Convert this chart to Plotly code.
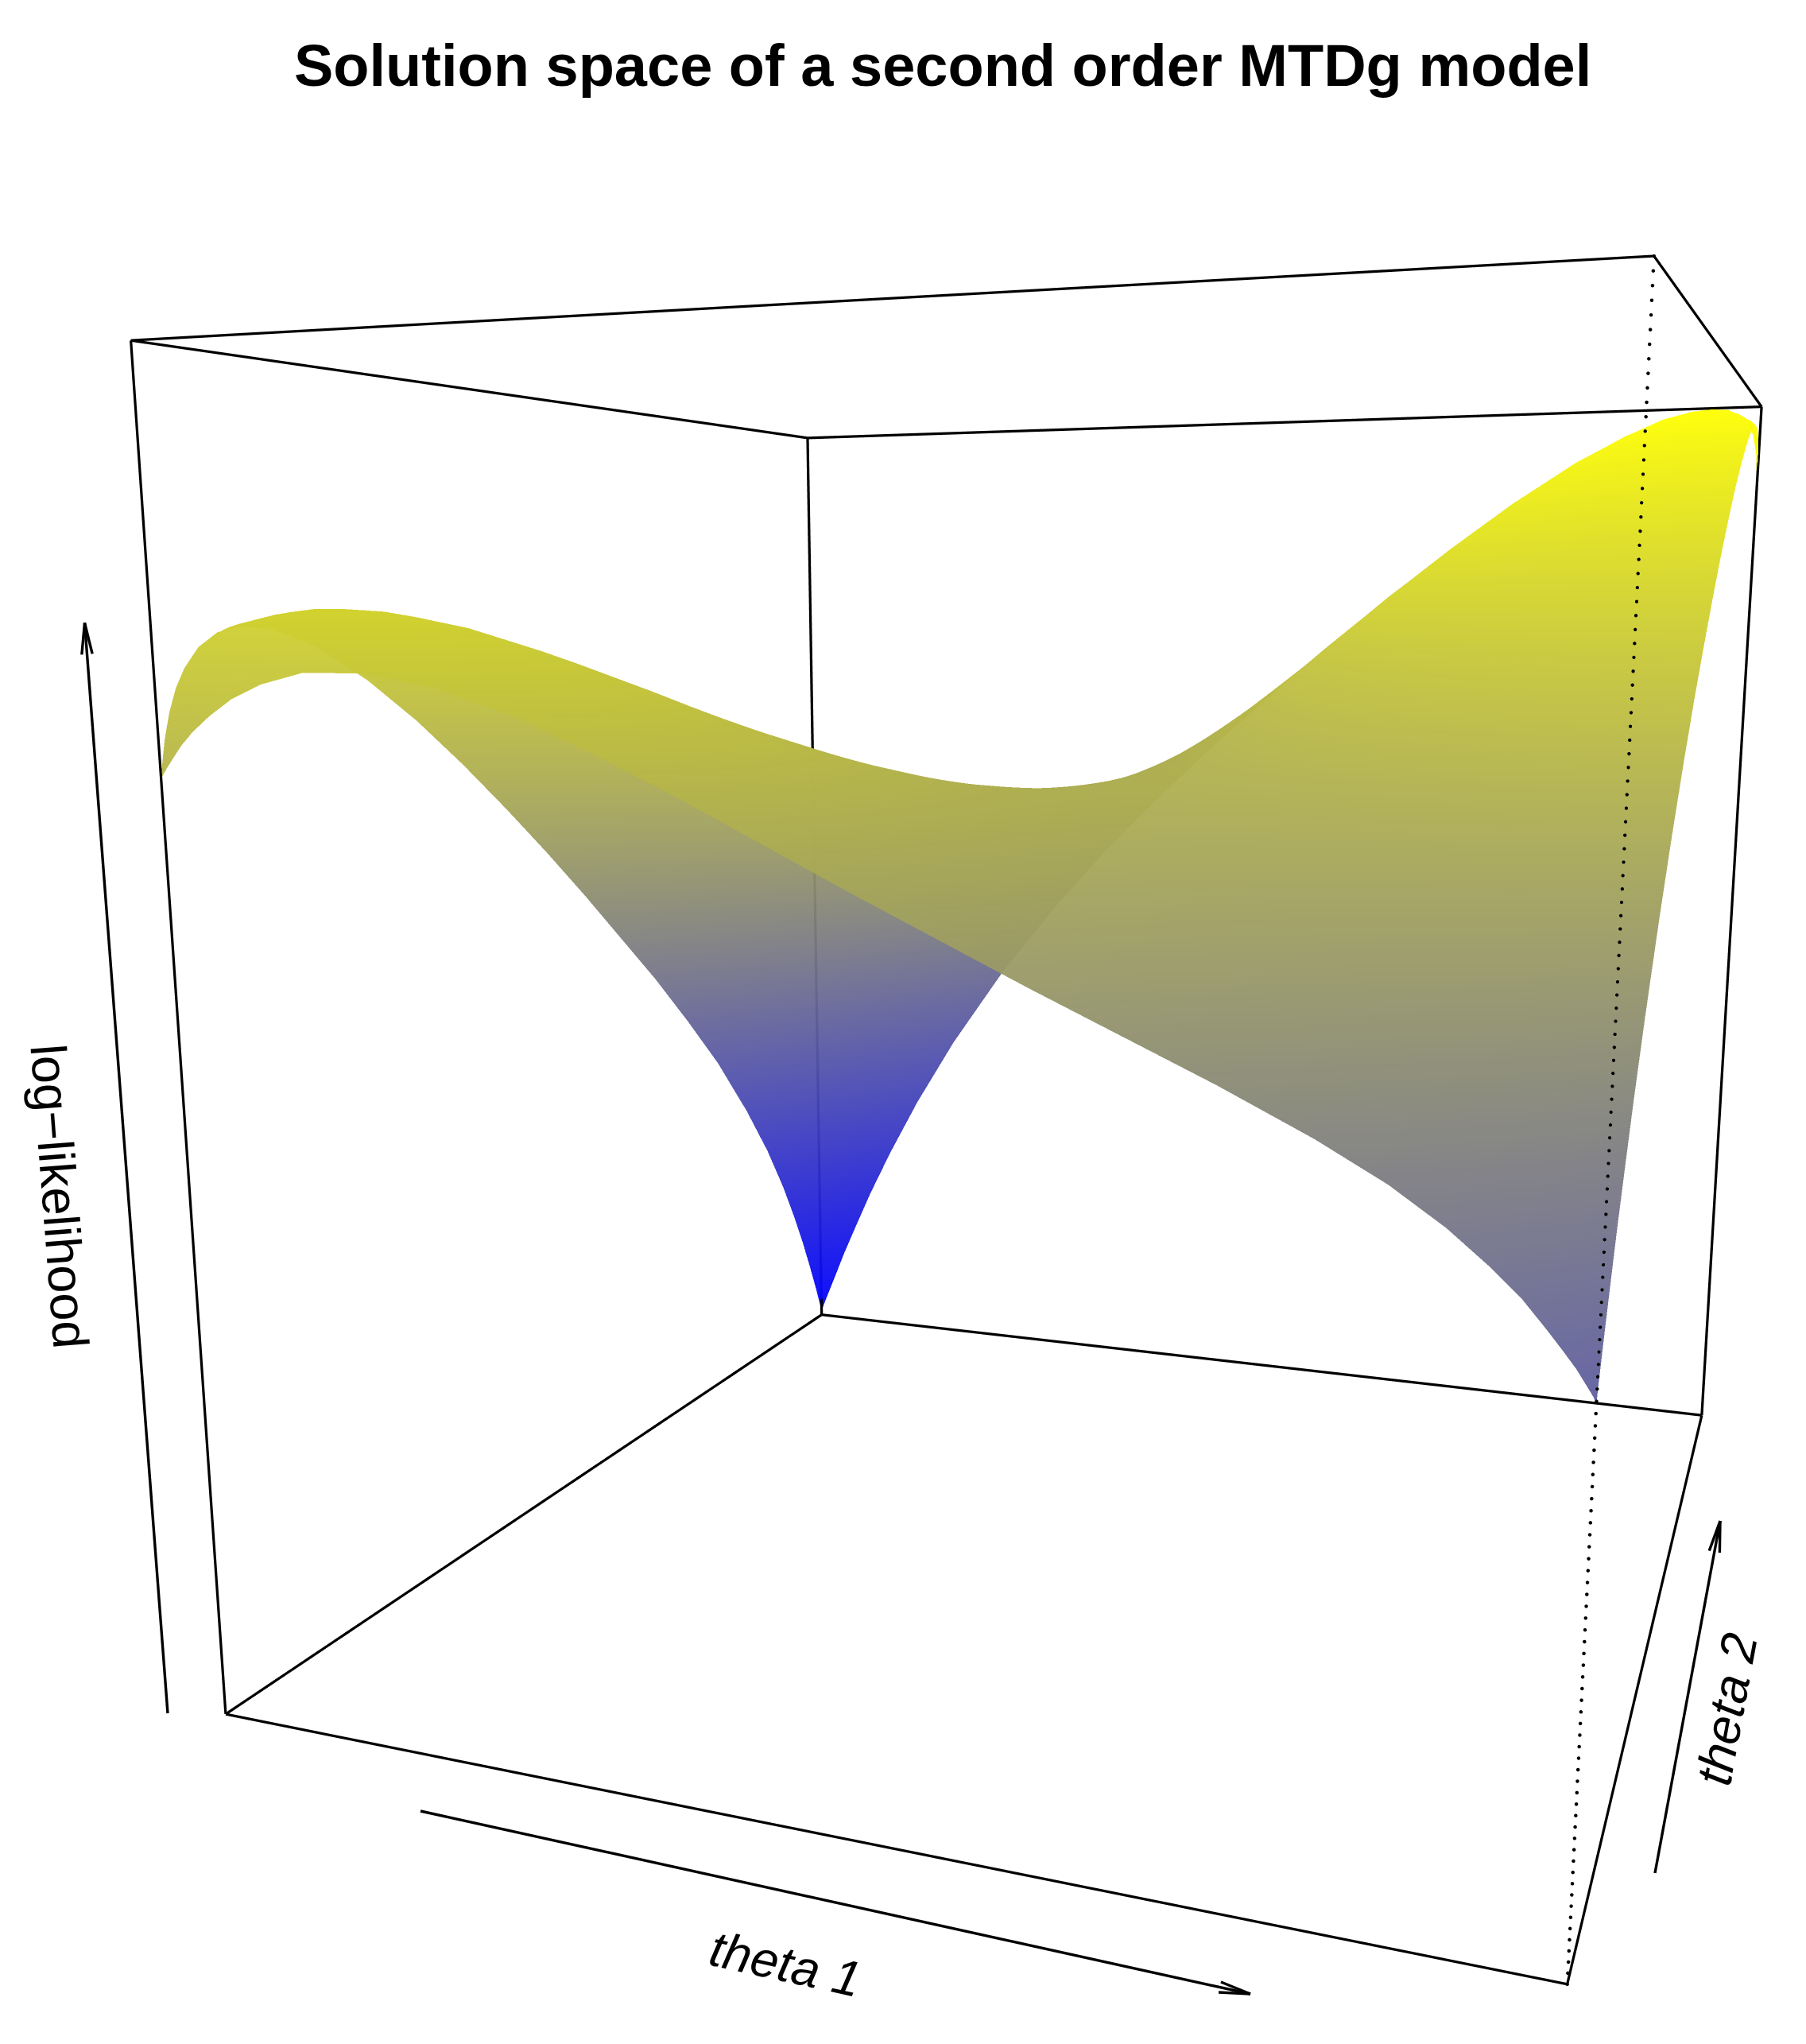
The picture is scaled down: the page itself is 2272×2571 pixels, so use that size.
import numpy as np
import plotly.graph_objects as go

W, H = 2272, 2571

theta_1 = [0, .002, .006, .012, .02, .03, .045, .065, .09, .125, .17, .23, .29, .35, .41, .47,
           .53, .59, .65, .71, .77, .83, .875, .91, .935, .955, .97, .98, .988, .994, .998, 1]
theta_2 = list(theta_1)

# log-likelihood, scaled to 0-1000 of the box height (rows: theta 2, columns: theta 1)
loglik_rows = [
 [705,708,713,720,729,738,749,761,771,779,779,770,752,728,702,674,646,619,592,566,540,512,488,465,445,427,410,398,388,379,373,369],
 [715,718,722,729,736,745,755,766,775,781,782,772,753,729,703,675,647,620,593,568,542,514,490,467,447,429,413,401,390,382,375,372],
 [732,734,737,743,749,756,765,774,782,787,786,774,756,732,705,677,649,622,596,570,545,517,493,471,452,434,418,406,396,387,381,378],
 [750,751,754,758,764,769,776,784,790,793,791,778,759,734,707,679,652,625,599,574,549,522,499,477,458,440,425,414,403,395,389,386],
 [767,768,770,774,778,782,788,794,798,800,796,783,762,738,711,683,655,629,603,579,555,529,506,485,467,450,435,423,414,406,400,397],
 [781,782,784,787,790,794,799,803,806,807,802,787,766,741,714,686,659,633,608,585,562,537,515,494,477,461,446,435,426,418,413,410],
 [795,796,797,800,802,805,809,812,814,813,807,791,770,745,718,690,664,639,615,593,571,548,527,508,492,476,463,453,444,437,432,429],
 [805,805,807,809,811,813,816,819,820,818,811,794,772,748,721,695,669,646,624,603,583,562,543,526,511,497,485,475,467,461,456,454],
 [809,810,811,813,815,817,819,821,821,819,811,795,773,749,724,699,675,653,633,614,597,578,562,547,534,521,510,502,494,489,484,482],
 [806,807,808,809,811,813,815,817,817,815,807,791,770,748,724,701,680,660,643,628,614,600,587,574,563,553,543,536,530,525,522,520],
 [793,794,795,796,798,800,802,804,804,802,795,781,762,742,721,701,683,668,654,644,634,625,616,607,598,590,583,577,572,568,565,564],
 [765,766,767,769,771,773,775,778,779,778,773,761,746,729,713,697,684,674,666,661,658,654,651,646,641,636,631,627,623,620,618,617],
 [730,731,732,734,736,739,742,745,747,748,745,737,726,714,702,691,683,678,675,676,678,681,682,682,680,677,674,672,669,667,666,665],
 [690,691,692,695,697,700,704,708,712,715,715,711,704,696,689,684,681,681,684,690,698,706,712,715,716,715,714,713,712,711,710,709],
 [647,648,650,652,655,659,664,669,675,680,684,684,682,679,677,676,678,684,692,703,716,730,740,746,749,751,751,751,751,750,750,750],
 [602,603,605,608,611,616,622,629,637,645,652,657,660,662,665,670,677,687,700,717,735,754,767,776,781,784,786,787,787,787,787,787],
 [555,556,558,562,566,572,579,588,598,609,620,631,639,647,655,664,677,692,710,731,754,777,793,804,811,816,819,820,821,822,822,822],
 [506,508,511,515,520,527,536,547,559,574,589,606,620,633,646,661,678,698,721,746,773,800,819,832,841,846,850,852,853,854,855,855],
 [457,458,462,467,473,481,492,505,520,539,559,582,602,621,640,660,682,706,734,763,793,823,844,859,869,875,879,882,883,884,885,885],
 [404,406,410,416,424,433,446,462,480,504,530,560,586,611,635,661,688,717,748,780,814,847,870,886,896,903,907,909,911,912,912,913],
 [348,350,355,361,370,381,397,416,439,467,500,537,571,602,633,663,695,728,763,799,835,870,894,911,921,928,932,935,936,937,937,937],
 [283,286,292,300,311,324,342,366,393,428,468,514,556,594,631,667,704,741,780,819,857,893,918,935,945,952,955,957,958,958,958,958],
 [228,231,237,247,259,274,295,322,354,394,441,495,543,588,630,670,711,752,793,833,873,910,935,952,962,968,970,972,972,971,971,970],
 [178,181,188,199,213,229,253,284,319,365,417,478,533,582,628,673,716,760,803,845,886,923,948,964,973,978,981,981,980,979,977,977],
 [137,141,149,160,175,193,220,253,291,341,398,465,524,577,627,674,720,765,810,853,894,932,957,972,981,985,987,986,985,982,980,978],
 [101,105,113,126,142,161,190,225,267,320,381,453,516,573,625,675,723,769,815,859,901,939,963,978,986,990,991,990,987,984,980,977],
 [71,76,85,98,115,135,165,203,247,303,368,443,509,569,623,675,724,772,819,863,906,943,968,983,990,994,994,992,988,983,977,974],
 [50,55,64,78,95,117,148,187,233,291,358,436,505,566,622,675,726,774,821,866,909,947,971,985,993,996,995,993,988,982,974,969],
 [33,37,47,61,79,101,133,174,221,281,350,430,501,564,621,675,726,776,823,869,911,949,973,987,995,997,996,993,988,980,970,961],
 [19,24,34,48,67,89,122,163,211,273,344,426,498,562,620,675,727,777,825,870,913,951,975,989,996,998,997,993,987,977,964,950],
 [9,14,24,39,58,81,114,156,205,268,339,423,495,560,620,675,727,777,826,871,914,952,976,990,997,999,997,993,986,975,959,936],
 [0,10,20,34,53,77,110,153,202,265,337,421,494,560,619,675,727,778,826,872,915,953,976,991,997,999,998,993,986,974,955,921],
]

title_text = 'Solution space of a second order MTDg model'
z_label = 'log\u2212likelihood'
x_label = 'theta 1'
y_label = 'theta 2'

z = np.array(loglik_rows) / 1000

# camera and box proportions
eye = np.array([0.63085, -1.9051, 0.32793])
fwd = np.array([-0.36093, 0.9124, -0.19302])
up = np.array([-0.06598, 0.18147, 0.98118])
ay, az, cx, cy = 1.09823, 1.00891, 1189.65, 1339.29

corners = [(0, 0, 0), (1, 0, 0), (1, 1, 0), (0, 1, 0), (0, 0, 1), (1, 0, 1), (1, 1, 1), (0, 1, 1)]
box_edges = [(0, 1), (1, 2), (2, 3), (3, 0), (4, 5), (5, 6), (6, 7), (7, 4), (0, 4), (2, 6), (3, 7)]

fig = go.Figure()
fig.add_surface(x=theta_1, y=theta_2, z=z, surfacecolor=z, cmin=0, cmax=1,
                colorscale=[[0, 'rgb(0,0,255)'], [1, 'rgb(255,255,0)']], showscale=False, opacity=.95,
                lighting=dict(ambient=1, diffuse=0, specular=0, fresnel=0, roughness=1), hoverinfo='skip')
for a, b in box_edges:
    p, q = corners[a], corners[b]
    fig.add_scatter3d(x=[p[0], q[0]], y=[p[1], q[1]], z=[p[2], q[2]], mode='lines',
                      line=dict(color='black', width=6.5), showlegend=False, hoverinfo='skip')
# the near vertical box edge is dotted
n_dots = 136
fig.add_scatter3d(x=np.ones(n_dots), y=np.zeros(n_dots), z=np.linspace(0, 1, n_dots), mode='markers',
                  marker=dict(color='black', size=2.6, line=dict(width=0)), showlegend=False, hoverinfo='skip')

hd = 2 * min(cy, H - cy)
wd = 2 * min(cx, W - cx)
hidden = dict(visible=False, range=[0, 1])
fig.update_layout(
    width=W, height=H, autosize=False, margin=dict(l=0, r=0, t=0, b=0), paper_bgcolor='white', showlegend=False,
    scene=dict(
        domain=dict(x=[(cx - wd / 2) / W, (cx + wd / 2) / W], y=[1 - (cy + hd / 2) / H, 1 - (cy - hd / 2) / H]),
        aspectmode='manual', aspectratio=dict(x=1, y=ay, z=az),
        xaxis=hidden, yaxis=hidden, zaxis=hidden,
        camera=dict(eye=dict(x=eye[0], y=eye[1], z=eye[2]),
                    center=dict(x=eye[0] + fwd[0], y=eye[1] + fwd[1], z=eye[2] + fwd[2]),
                    up=dict(x=up[0], y=up[1], z=up[2]),
                    projection=dict(type='perspective'))))

FONT = 'Liberation Sans'


def note(text, x, y, size, angle=0, bold=False, italic=False):
    t = text
    if bold:
        t = '<b>' + t + '</b>'
    if italic:
        t = '<i>' + t + '</i>'
    fig.add_annotation(x=x / W, y=1 - y / H, xref='paper', yref='paper', text=t, showarrow=False, textangle=angle,
                       font=dict(family=FONT, size=size, color='black'), xanchor='center', yanchor='middle')


def seg(a, b):
    fig.add_shape(type='line', xref='paper', yref='paper', x0=a[0] / W, y0=1 - a[1] / H, x1=b[0] / W, y1=1 - b[1] / H,
                  line=dict(color='black', width=3.4))


def arrow(tail, head, length=40, ang=9.6):
    tail = np.array(tail, float)
    head = np.array(head, float)
    d = (tail - head) / np.linalg.norm(tail - head)
    seg(tail, head)
    for s in (-1, 1):
        a = np.radians(s * ang)
        seg(head, head + length * np.array([d[0] * np.cos(a) - d[1] * np.sin(a), d[0] * np.sin(a) + d[1] * np.cos(a)]))


note(title_text, 1186, 82, 74, bold=True)
note(z_label, 75, 1505, 63, angle=85.6)
note(x_label, 988, 2470, 63, angle=12.4, italic=True)
note(y_label, 2172, 2150, 63, angle=-79.5, italic=True)
arrow((211, 2155), (106.5, 783.5))
arrow((529, 2278), (1573, 2508))
arrow((2082, 2356), (2164, 1913))

fig.write_html("out.html", post_script="document.body.style.margin='0';", config={'displayModeBar': False})
